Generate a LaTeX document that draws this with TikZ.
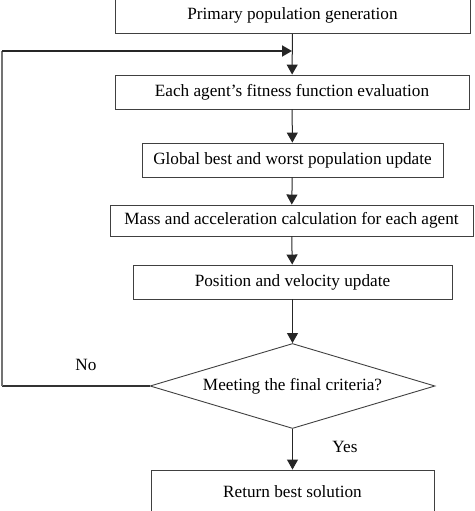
\documentclass[tikz,border=0pt]{standalone}
\usepackage{fontspec}
\setmainfont{Liberation Serif}
\usetikzlibrary{shapes.geometric,arrows.meta}
\begin{document}
\begin{tikzpicture}[x=1pt,y=-1pt,
  box/.style={draw=black!75,line width=0.9pt,rectangle,inner sep=0pt,font=\fontsize{17.2}{20}\selectfont},
  dec/.style={draw=black!75,line width=0.9pt,diamond,inner sep=0pt,aspect=3.35,font=\fontsize{17.2}{20}\selectfont},
  flow/.style={draw=black!85,line width=1pt,-{Triangle[length=10pt,width=11pt]}},
  lbl/.style={font=\fontsize{17.2}{20}\selectfont}]
\useasboundingbox (0,0) rectangle (474,511);
\node[box,minimum width=355pt,minimum height=36pt] (prim) at (292.5,15.5) {Primary population generation};
\node[box,minimum width=354pt,minimum height=34pt] (each) at (292,92) {\raisebox{-1.5pt}{Each agent’s fitness function evaluation}};
\node[box,minimum width=301pt,minimum height=34pt] (glob) at (292.5,160) {Global best and worst population update\hspace{10pt}};
\node[box,minimum width=363pt,minimum height=31pt] (mass) at (291.5,220.5) {Mass and acceleration calculation for each agent\hspace{12pt}};
\node[box,minimum width=319pt,minimum height=34pt] (pos) at (292.5,282) {Position and velocity update};
\node[dec,minimum width=285pt,minimum height=85pt] (crit) at (292.5,386) {Meeting the final criteria?};
\node[box,minimum width=283pt,minimum height=44pt] (ret) at (292.5,492) {Return best solution};
\node[lbl] (no) at (86,365) {No};
\node[lbl] (yes) at (345,447) {Yes};
\coordinate (loopL) at (2,386);
\coordinate (loopT) at (2,51);
\coordinate (join) at (292,51);
\draw[flow] (prim) -- (each);
\draw[flow] (each) -- (glob);
\draw[flow] (glob) -- (mass);
\draw[flow] (mass) -- (pos);
\draw[flow] (pos) -- (crit);
\draw[flow] (crit) -- (ret);
\draw[draw=black!80,line width=1.8pt] (crit.west) -- (loopL);
\draw[draw=black!55,line width=2.5pt] (loopL) -- (loopT);
\draw[flow,line width=1.8pt] (loopT) -- (join);
\end{tikzpicture}
\end{document}
